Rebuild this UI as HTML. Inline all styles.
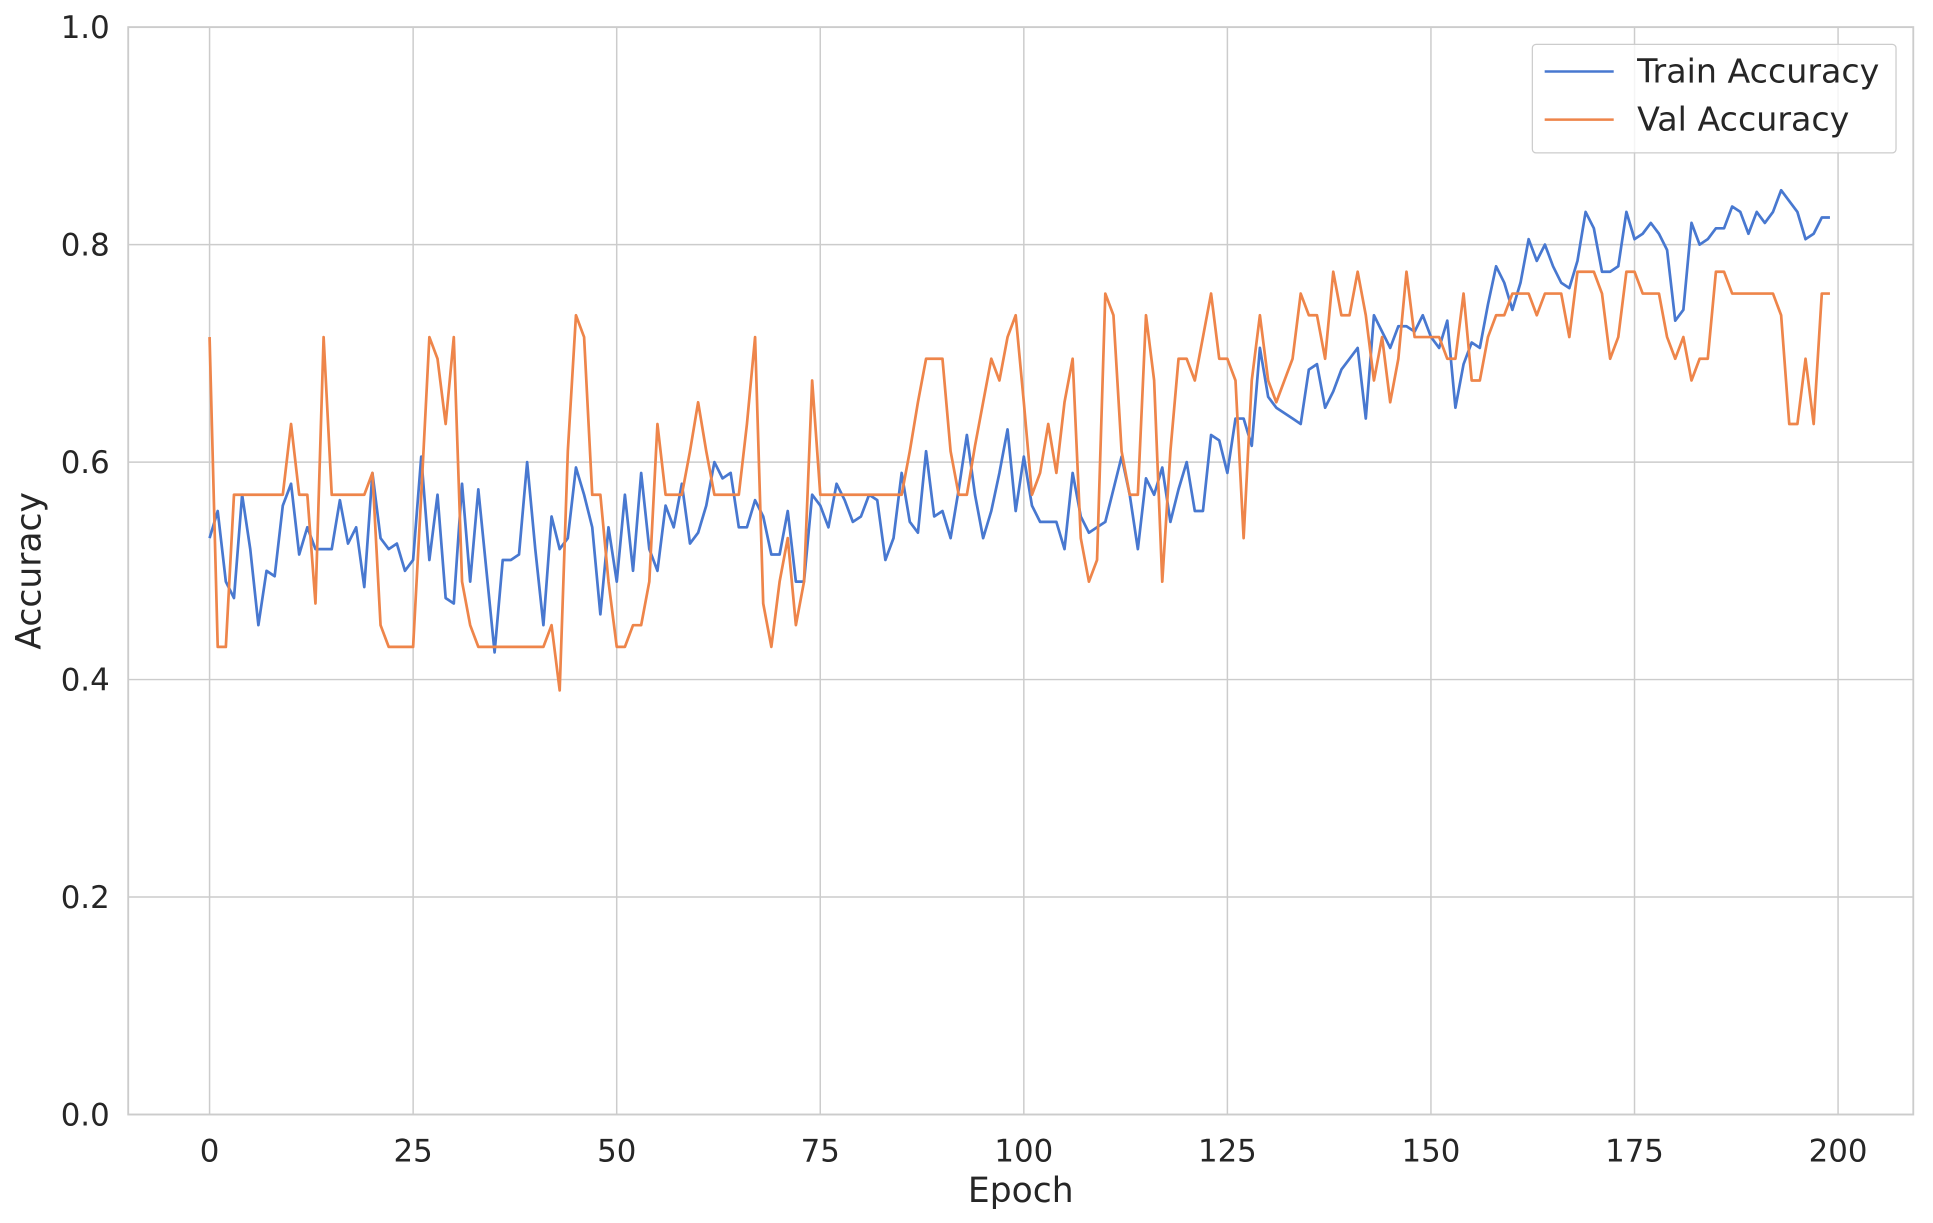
<!DOCTYPE html>
<html><head><meta charset="utf-8"><style>
html,body{margin:0;padding:0;background:#fff;}
svg{display:block;}
text{font-family:"DejaVu Sans","Liberation Sans",sans-serif;fill:#262626;}
</style></head><body>
<svg id="s" width="1933" height="1223" viewBox="0 0 1568 992" preserveAspectRatio="none" xmlns="http://www.w3.org/2000/svg">
<rect x="0" y="0" width="1568" height="992" fill="#fff"/>
<g id="grid" stroke="#cccccc" stroke-width="1.2"></g>
<rect x="104" y="22" width="1448" height="882" fill="none" stroke="#cccccc" stroke-width="1.5"/>
<g id="ticks" font-size="25"></g>
<text x="828" y="975" font-size="28" text-anchor="middle">Epoch</text>
<text transform="translate(33,463) rotate(-90)" font-size="28" text-anchor="middle">Accuracy</text>
<polyline id="tr" fill="none" stroke="#4878d0" stroke-width="2.2" stroke-linejoin="round"/>
<polyline id="va" fill="none" stroke="#ee854a" stroke-width="2.2" stroke-linejoin="round"/>
<rect x="1243" y="36" width="295" height="88" rx="3" fill="#fff" fill-opacity="0.8" stroke="#cccccc" stroke-width="1"/>
<line x1="1253" y1="58" x2="1309" y2="58" stroke="#4878d0" stroke-width="2"/>
<line x1="1253" y1="97" x2="1309" y2="97" stroke="#ee854a" stroke-width="2"/>
<text x="1328" y="67" font-size="27">Train Accuracy</text>
<text x="1328" y="106" font-size="27">Val Accuracy</text>
</svg>
<script>
var X=function(e){return 170+e*6.605;},Y=function(v){return 904-v*882;};
var g=document.getElementById('grid'),t=document.getElementById('ticks'),ns='http://www.w3.org/2000/svg';
function el(p,n,a,txt){var e=document.createElementNS(ns,n);for(var k in a)e.setAttribute(k,a[k]);if(txt!=null)e.textContent=txt;p.appendChild(e);}
for(var i=0;i<=200;i+=25){el(g,'line',{x1:X(i),x2:X(i),y1:22,y2:904});el(t,'text',{x:X(i),y:942,'text-anchor':'middle'},String(i));}
for(var j=0;j<=5;j++){var v=j*0.2;el(g,'line',{x1:104,x2:1552,y1:Y(v),y2:Y(v)});el(t,'text',{x:89,y:Y(v)+9,'text-anchor':'end'},v.toFixed(1));}
var tr=[0.53,0.555,0.49,0.475,0.57,0.52,0.45,0.50,0.495,0.56,0.58,0.515,0.54,0.52,0.52,0.52,0.565,0.525,0.54,0.485,0.59,0.53,0.52,0.525,0.50,0.51,0.605,0.51,0.57,0.475,0.47,0.58,0.49,0.575,0.50,0.425,0.51,0.51,0.515,0.60,0.52,0.45,0.55,0.52,0.53,0.595,0.57,0.54,0.46,0.54,0.49,0.57,0.50,0.59,0.52,0.50,0.56,0.54,0.58,0.525,0.535,0.56,0.60,0.585,0.59,0.54,0.54,0.565,0.55,0.515,0.515,0.555,0.49,0.49,0.57,0.56,0.54,0.58,0.565,0.545,0.55,0.57,0.565,0.51,0.53,0.59,0.545,0.535,0.61,0.55,0.555,0.53,0.575,0.625,0.57,0.53,0.555,0.59,0.63,0.555,0.605,0.56,0.545,0.545,0.545,0.52,0.59,0.55,0.535,0.54,0.545,0.575,0.605,0.57,0.52,0.585,0.57,0.595,0.545,0.575,0.60,0.555,0.555,0.625,0.62,0.59,0.64,0.64,0.615,0.705,0.66,0.65,0.645,0.64,0.635,0.685,0.69,0.65,0.665,0.685,0.695,0.705,0.64,0.735,0.72,0.705,0.725,0.725,0.72,0.735,0.715,0.705,0.73,0.65,0.69,0.71,0.705,0.745,0.78,0.765,0.74,0.765,0.805,0.785,0.80,0.78,0.765,0.76,0.785,0.83,0.815,0.775,0.775,0.78,0.83,0.805,0.81,0.82,0.81,0.795,0.73,0.74,0.82,0.80,0.805,0.815,0.815,0.835,0.83,0.81,0.83,0.82,0.83,0.85,0.84,0.83,0.805,0.81,0.825,0.825];
var va=[0.715,0.43,0.43,0.57,0.57,0.57,0.57,0.57,0.57,0.57,0.635,0.57,0.57,0.47,0.715,0.57,0.57,0.57,0.57,0.57,0.59,0.45,0.43,0.43,0.43,0.43,0.57,0.715,0.695,0.635,0.715,0.49,0.45,0.43,0.43,0.43,0.43,0.43,0.43,0.43,0.43,0.43,0.45,0.39,0.61,0.735,0.715,0.57,0.57,0.49,0.43,0.43,0.45,0.45,0.49,0.635,0.57,0.57,0.57,0.61,0.655,0.61,0.57,0.57,0.57,0.57,0.635,0.715,0.47,0.43,0.49,0.53,0.45,0.49,0.675,0.57,0.57,0.57,0.57,0.57,0.57,0.57,0.57,0.57,0.57,0.57,0.61,0.655,0.695,0.695,0.695,0.61,0.57,0.57,0.615,0.655,0.695,0.675,0.715,0.735,0.655,0.57,0.59,0.635,0.59,0.655,0.695,0.53,0.49,0.51,0.755,0.735,0.61,0.57,0.57,0.735,0.675,0.49,0.61,0.695,0.695,0.675,0.715,0.755,0.695,0.695,0.675,0.53,0.675,0.735,0.675,0.655,0.675,0.695,0.755,0.735,0.735,0.695,0.775,0.735,0.735,0.775,0.735,0.675,0.715,0.655,0.695,0.775,0.715,0.715,0.715,0.715,0.695,0.695,0.755,0.675,0.675,0.715,0.735,0.735,0.755,0.755,0.755,0.735,0.755,0.755,0.755,0.715,0.775,0.775,0.775,0.755,0.695,0.715,0.775,0.775,0.755,0.755,0.755,0.715,0.695,0.715,0.675,0.695,0.695,0.775,0.775,0.755,0.755,0.755,0.755,0.755,0.755,0.735,0.635,0.635,0.695,0.635,0.755,0.755];
function pts(a){return a.map(function(v,i){return X(i).toFixed(1)+','+Y(v).toFixed(1);}).join(' ');}
document.getElementById('tr').setAttribute('points',pts(tr));
document.getElementById('va').setAttribute('points',pts(va));
</script>
</body></html>
